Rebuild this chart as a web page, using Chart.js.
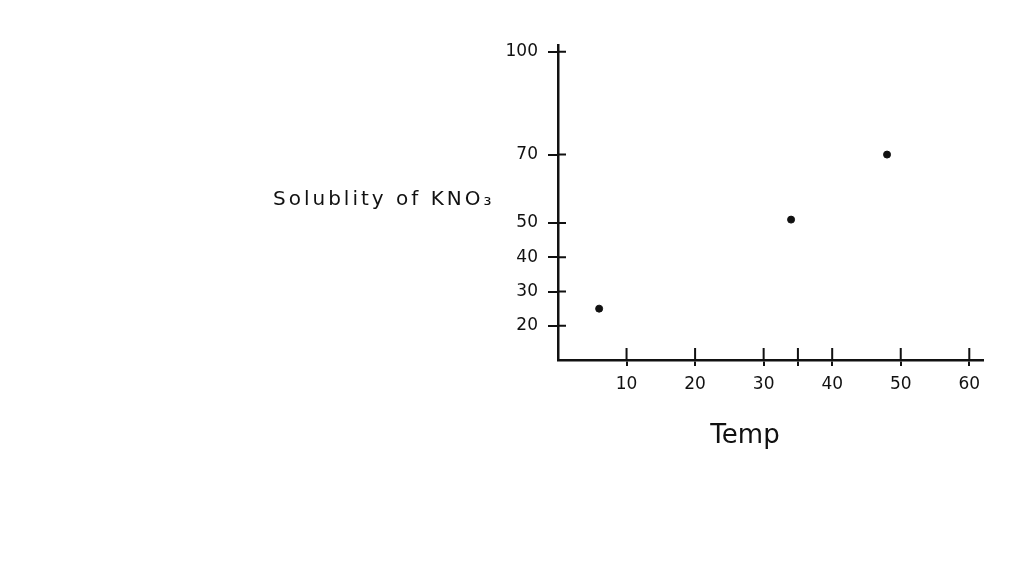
<!DOCTYPE html>
<html>
<head>
<meta charset="utf-8">
<style>
  html, body { margin: 0; padding: 0; background: #fff; }
  #wrap { width: 1024px; height: 576px; position: relative; }
</style>
<script src="https://cdn.jsdelivr.net/npm/chart.js@4/dist/chart.umd.min.js"></script>
</head>
<body>
<div id="wrap"><canvas id="solChart"></canvas></div>
<script>
// Data
const tempValues = [6, 34, 48];
const solubility = [25, 51, 70];

const xTicks = [10, 20, 30, 35, 40, 50, 60];
const xTickLabels = ['10', '20', '30', '', '40', '50', '60'];
const yTicks = [20, 30, 40, 50, 70, 100];
const yTickLabels = ['20', '30', '40', '50', '70', '100'];

const yTitle = 'Solublity of KNO\u2083';
const xTitle = 'Temp';

const FONT = '"DejaVu Sans", sans-serif';

// ticks that cross the axis line + the two axis titles
const sketchPlugin = {
  id: 'sketch',
  afterDraw(chart) {
    const ctx = chart.ctx;
    const xs = chart.scales.x;
    const ys = chart.scales.y;
    ctx.save();
    ctx.strokeStyle = '#111';
    ctx.lineWidth = 2;
    ctx.beginPath();
    xs.ticks.forEach(t => {
      const px = xs.getPixelForValue(t.value);
      ctx.moveTo(px, xs.top);
      ctx.lineTo(px, xs.top - 12);
    });
    ys.ticks.forEach(t => {
      const py = ys.getPixelForValue(t.value);
      ctx.moveTo(ys.right, py);
      ctx.lineTo(ys.right + 8, py);
    });
    ctx.stroke();

    ctx.fillStyle = '#111';
    ctx.font = '20px ' + FONT;
    ctx.letterSpacing = '3px';
    ctx.textAlign = 'left';
    ctx.textBaseline = 'middle';
    ctx.fillText(yTitle, 273, 200);

    ctx.font = '26px ' + FONT;
    ctx.letterSpacing = '0px';
    ctx.textAlign = 'center';
    ctx.fillText(xTitle, 745, 436);
    ctx.restore();
  }
};

new Chart(document.getElementById('solChart'), {
  type: 'scatter',
  plugins: [sketchPlugin],
  data: {
    datasets: [{
      label: 'Solubility',
      data: tempValues.map((t, i) => ({ x: t, y: solubility[i] })),
      backgroundColor: '#111',
      borderColor: '#111',
      pointRadius: 3.5,
      pointHoverRadius: 3.5
    }]
  },
  options: {
    responsive: true,
    maintainAspectRatio: false,
    animation: false,
    layout: { padding: { left: 0, right: 41, top: 45, bottom: 0 } },
    plugins: {
      legend: { display: false },
      tooltip: { enabled: false }
    },
    scales: {
      x: {
        type: 'linear',
        min: 0,
        max: 62,
        afterFit: s => { s.height = 216; },
        afterBuildTicks: s => { s.ticks = xTicks.map(v => ({ value: v })); },
        border: { display: true, color: '#111', width: 2.5 },
        grid: { drawOnChartArea: false, drawTicks: true, tickLength: 6, color: '#111', lineWidth: 2 },
        ticks: {
          color: '#111',
          padding: 8,
          maxRotation: 0,
          autoSkip: false,
          font: { family: FONT, size: 17 },
          callback: (v, i) => xTickLabels[i]
        }
      },
      y: {
        type: 'linear',
        min: 10,
        max: 102,
        afterFit: s => { s.width = 558; },
        afterBuildTicks: s => { s.ticks = yTicks.map(v => ({ value: v })); },
        border: { display: true, color: '#111', width: 2.5 },
        grid: { drawOnChartArea: false, drawTicks: true, tickLength: 10, color: '#111', lineWidth: 2 },
        ticks: {
          color: '#111',
          padding: 10,
          autoSkip: false,
          font: { family: FONT, size: 17 },
          callback: (v, i) => yTickLabels[i]
        }
      }
    }
  }
});
</script>
</body>
</html>
